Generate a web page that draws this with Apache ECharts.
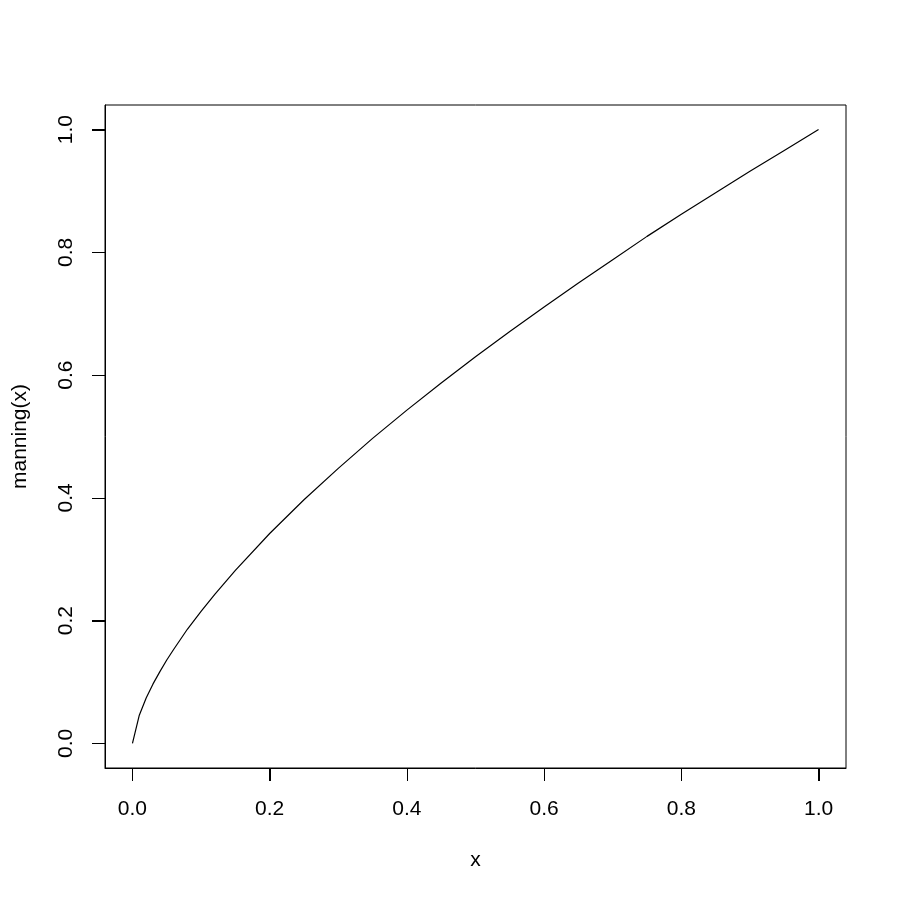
<!DOCTYPE html>
<html>
<head>
<meta charset="utf-8">
<script src="https://cdn.jsdelivr.net/npm/echarts@6/dist/echarts.min.js"></script>
<style>html,body{margin:0;padding:0;background:#fff}#c{width:900px;height:900px}</style>
</head>
<body>
<div id="c"></div>
<script>
var xValues = [0, 0.01, 0.02, 0.03, 0.04, 0.05, 0.06, 0.08, 0.10, 0.12, 0.15, 0.20, 0.25, 0.30, 0.35, 0.40, 0.45, 0.50, 0.55, 0.60, 0.65, 0.70, 0.75, 0.80, 0.85, 0.90, 0.95, 1.00];
var yValues = [0, 0.046, 0.074, 0.097, 0.117, 0.136, 0.153, 0.186, 0.215, 0.243, 0.282, 0.342, 0.397, 0.448, 0.497, 0.543, 0.587, 0.630, 0.671, 0.711, 0.750, 0.788, 0.826, 0.862, 0.897, 0.932, 0.966, 1.000];
var tickValues = [0, 0.2, 0.4, 0.6, 0.8, 1.0];
var tickLabels = ['0.0', '0.2', '0.4', '0.6', '0.8', '1.0'];
var xName = 'x';
var yName = 'manning(x)';
var axisMin = -0.04, axisMax = 1.04;

var data = xValues.map(function (x, i) { return [x, yValues[i]]; });
function fmt(v) { var i = tickValues.indexOf(Math.round(v * 10) / 10); return i >= 0 ? tickLabels[i] : ''; }
var font = 'Liberation Sans, Arial, Helvetica, sans-serif';
var TICK_LEN = 13;

// tick marks: [value, flag] flag 0 = x axis, 1 = y axis
var tickData = [];
tickValues.forEach(function (v) { tickData.push([v, 0]); tickData.push([v, 1]); });

var chart = echarts.init(document.getElementById('c'), null, {renderer: 'canvas'});
chart.setOption({
  animation: false,
  backgroundColor: '#fff',
  grid: {left: 105, right: 54, top: 105, bottom: 132, show: true, borderColor: '#000', borderWidth: 1, backgroundColor: 'transparent'},
  xAxis: {
    type: 'value', min: axisMin, max: axisMax,
    name: xName, nameLocation: 'middle', nameGap: 82,
    nameTextStyle: {color: '#000', fontSize: 21, fontFamily: font},
    axisLine: {show: true, onZero: false, lineStyle: {color: '#000', width: 1}},
    splitLine: {show: false},
    axisTick: {show: true, length: TICK_LEN, inside: false, customValues: tickValues, lineStyle: {color: '#000', width: 1}},
    axisLabel: {show: true, customValues: tickValues, formatter: fmt, margin: 31, color: '#000', fontSize: 21, fontFamily: font}
  },
  yAxis: {
    type: 'value', min: axisMin, max: axisMax,
    name: yName, nameLocation: 'middle', nameGap: 74, nameRotate: 90,
    nameTextStyle: {color: '#000', fontSize: 21, fontFamily: font},
    axisLine: {show: true, onZero: false, lineStyle: {color: '#000', width: 1}},
    splitLine: {show: false},
    axisTick: {show: true, length: TICK_LEN, inside: false, customValues: tickValues, lineStyle: {color: '#000', width: 1}},
    axisLabel: {show: true, customValues: tickValues, formatter: fmt, rotate: 90, margin: 28, color: '#000', fontSize: 21, fontFamily: font}
  },
  series: [{
    type: 'line', data: data, showSymbol: false, symbol: 'none', smooth: false,
    lineStyle: {color: '#000', width: 1.2}
  }, {
    type: 'custom', coordinateSystem: 'cartesian2d', data: tickData, clip: false, silent: true, z: 10,
    renderItem: function (params, api) {
      var v = api.value(0), flag = api.value(1);
      var p, shape;
      if (flag === 1) {
        p = api.coord([axisMin, v]);
        var y = Math.round(p[1]) + 0.5;
        shape = {x1: p[0] - TICK_LEN, y1: y, x2: p[0], y2: y};
      } else {
        p = api.coord([v, axisMin]);
        var x = Math.round(p[0]) + 0.5;
        shape = {x1: x, y1: p[1], x2: x, y2: p[1] + TICK_LEN};
      }
      return {type: 'line', shape: shape, style: {stroke: '#000', lineWidth: 1, fill: null}};
    }
  }]
});

// also place tick marks as graphic elements through the chart's own scales
try {
  var ticks = [];
  tickValues.forEach(function (v) {
    var px = chart.convertToPixel({xAxisIndex: 0, yAxisIndex: 0}, [v, axisMin]);
    var x = Math.round(px[0]) + 0.5;
    ticks.push({type: 'line', silent: true, z: 100,
      shape: {x1: x, y1: px[1], x2: x, y2: px[1] + TICK_LEN},
      style: {stroke: '#000', lineWidth: 1}});
    var py = chart.convertToPixel({xAxisIndex: 0, yAxisIndex: 0}, [axisMin, v]);
    var y = Math.round(py[1]) + 0.5;
    ticks.push({type: 'line', silent: true, z: 100,
      shape: {x1: py[0] - TICK_LEN, y1: y, x2: py[0], y2: y},
      style: {stroke: '#000', lineWidth: 1}});
  });
  chart.setOption({graphic: ticks});
} catch (e) { console.error(e); }
</script>
</body>
</html>
